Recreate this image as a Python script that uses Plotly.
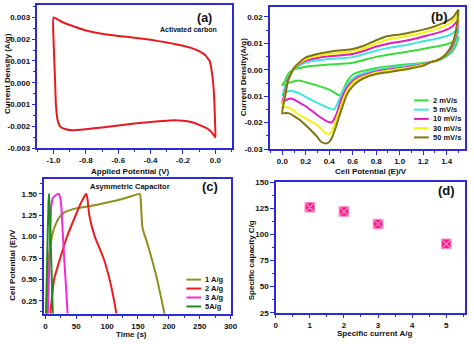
import plotly.graph_objects as go

W, H = 474, 344
BLUE = "#2a2ad6"
FONT = "Liberation Sans, Arial, sans-serif"

# ---------------- Panel (a): CV of activated carbon ----------------
a_v = [-1.0, -0.95, -0.9, -0.8, -0.7, -0.6, -0.5, -0.4, -0.3, -0.2, -0.15, -0.1, -0.06, -0.045,
       -0.035, -0.024, -0.014, -0.006, -0.002, 0.0,
       -0.02, -0.05, -0.1, -0.15, -0.2, -0.25, -0.3, -0.4, -0.5, -0.6, -0.7, -0.8, -0.88,
       -0.93, -0.96, -0.975, -0.985, -0.99, -0.995, -1.0, -1.0]
a_i = [0.0030, 0.0028, 0.00265, 0.0024, 0.00225, 0.00215, 0.00207, 0.00197, 0.00185, 0.0017,
       0.0016, 0.00145, 0.00125, 0.0011, 0.001, 0.0006, 0.0, -0.0009, -0.0018, -0.0025,
       -0.0023, -0.0021, -0.00193, -0.0018, -0.00174, -0.00172, -0.00174, -0.0018, -0.00187,
       -0.00196, -0.00205, -0.00213, -0.00218, -0.00212, -0.002, -0.0017, -0.001, 0.0, 0.001,
       0.002, 0.003]

# ---------------- Panel (b): CV at scan rates ----------------
b_names = ["2 mV/s", "5 mV/s", "10 mV/s", "30 mV/s", "50 mV/s"]
b_colors = ["#3ddc3d", "#3ee6dc", "#e01cc4", "#f2f20a", "#7d7412"]

b_anod_v = [0.0, 0.02, 0.05, 0.1, 0.15, 0.2, 0.3, 0.4, 0.5, 0.6, 0.7, 0.8, 0.9, 1.0, 1.1, 1.2, 1.3, 1.4, 1.45, 1.5]
b_anod_2 = [-0.0058, -0.0045, -0.0015, 0.0002, 0.0007, 0.0012, 0.0016, 0.002, 0.0023, 0.0027, 0.0038, 0.0049, 0.0057, 0.0064, 0.0071, 0.0079, 0.0087, 0.0097, 0.0105, 0.0127]
b_anod_5 = [-0.0097, -0.007, -0.003, 0.0003, 0.0018, 0.0028, 0.0036, 0.0041, 0.0044, 0.0048, 0.006, 0.0072, 0.0083, 0.009, 0.0098, 0.0108, 0.0117, 0.0128, 0.0138, 0.0158]
b_anod_10 = [-0.0125, -0.009, -0.0035, 0.0004, 0.0022, 0.0035, 0.0045, 0.0051, 0.0055, 0.006, 0.0072, 0.0088, 0.0099, 0.0106, 0.0115, 0.0126, 0.0137, 0.0152, 0.0165, 0.019]
b_anod_30 = [-0.0145, -0.010, -0.004, 0.0006, 0.0026, 0.0041, 0.0053, 0.006, 0.0065, 0.0069, 0.0082, 0.010, 0.0115, 0.0123, 0.0131, 0.014, 0.0153, 0.017, 0.0184, 0.0214]
b_anod_50 = [-0.0165, -0.011, -0.004, 0.0008, 0.003, 0.0047, 0.006, 0.0068, 0.0074, 0.0079, 0.0092, 0.0112, 0.0128, 0.0134, 0.0142, 0.0152, 0.0165, 0.0183, 0.0197, 0.0228]

b_cath_v_2 = [1.5, 1.49, 1.47, 1.44, 1.4, 1.35, 1.3, 1.27, 1.2, 1.1, 1.0, 0.9, 0.8, 0.7, 0.65, 0.6, 0.55, 0.52, 0.49, 0.45, 0.4, 0.3, 0.2, 0.15, 0.1, 0.05, 0.0]
b_cath_2 = [0.0127, 0.0108, 0.0085, 0.0066, 0.0052, 0.004, 0.0033, 0.003, 0.0026, 0.0022, 0.0018, 0.0013, 0.0007, -0.0003, -0.0008, -0.0018, -0.0045, -0.0075, -0.0097, -0.0088, -0.0075, -0.006, -0.0047, -0.0041, -0.0043, -0.005, -0.0058]
b_cath_v_5 = [1.5, 1.49, 1.47, 1.44, 1.4, 1.35, 1.3, 1.27, 1.2, 1.1, 1.0, 0.9, 0.8, 0.7, 0.65, 0.6, 0.55, 0.5, 0.47, 0.44, 0.4, 0.3, 0.2, 0.15, 0.1, 0.07, 0.03, 0.0]
b_cath_5 = [0.0158, 0.013, 0.0098, 0.0073, 0.0055, 0.004, 0.0033, 0.003, 0.0023, 0.0018, 0.0014, 0.0007, 0.0, -0.0012, -0.002, -0.0033, -0.0058, -0.0095, -0.0128, -0.015, -0.0146, -0.0125, -0.0102, -0.009, -0.0082, -0.0079, -0.0085, -0.0097]
b_cath_v_10 = [1.5, 1.49, 1.47, 1.44, 1.4, 1.35, 1.3, 1.27, 1.2, 1.1, 1.0, 0.9, 0.8, 0.7, 0.65, 0.6, 0.55, 0.5, 0.46, 0.42, 0.38, 0.3, 0.2, 0.15, 0.1, 0.07, 0.03, 0.0]
b_cath_10 = [0.019, 0.0155, 0.0115, 0.0082, 0.0058, 0.0042, 0.0033, 0.003, 0.0021, 0.0013, 0.0007, 0.0001, -0.0006, -0.0019, -0.0027, -0.0042, -0.0068, -0.0115, -0.017, -0.0199, -0.0195, -0.0172, -0.0138, -0.0125, -0.0113, -0.0109, -0.0115, -0.0125]
b_cath_v_30 = [1.5, 1.49, 1.47, 1.44, 1.4, 1.35, 1.3, 1.27, 1.2, 1.1, 1.0, 0.9, 0.8, 0.7, 0.65, 0.6, 0.55, 0.5, 0.45, 0.42, 0.4, 0.37, 0.3, 0.2, 0.15, 0.1, 0.05, 0.02, 0.0]
b_cath_30 = [0.0214, 0.017, 0.0125, 0.0088, 0.0061, 0.0043, 0.0033, 0.003, 0.0019, 0.001, 0.0004, -0.0003, -0.001, -0.0024, -0.0033, -0.005, -0.008, -0.0135, -0.02, -0.0235, -0.0242, -0.024, -0.021, -0.0185, -0.0172, -0.0155, -0.0142, -0.0142, -0.0145]
b_cath_v_50 = [1.5, 1.49, 1.47, 1.44, 1.4, 1.35, 1.3, 1.27, 1.2, 1.1, 1.0, 0.9, 0.8, 0.7, 0.65, 0.6, 0.55, 0.5, 0.45, 0.42, 0.4, 0.37, 0.33, 0.3, 0.2, 0.15, 0.1, 0.06, 0.03, 0.0]
b_cath_50 = [0.0228, 0.018, 0.013, 0.009, 0.0063, 0.0043, 0.0033, 0.003, 0.0016, 0.0006, -0.0002, -0.0009, -0.0016, -0.003, -0.0043, -0.0062, -0.0094, -0.0156, -0.0225, -0.026, -0.0273, -0.0279, -0.0272, -0.0255, -0.021, -0.019, -0.0175, -0.0165, -0.0163, -0.0165]

# ---------------- Panel (c): charge / discharge ----------------
c_names = ["1 A/g", "2 A/g", "3 A/g", "5A/g"]
c_colors = ["#8f8f1c", "#ee1c1c", "#f22ad8", "#1e8a1e"]
c_t_1 = [1.5, 3, 5, 8, 12, 17, 22, 30, 40, 50, 75, 100, 125, 153, 155, 157, 160, 163, 170, 181, 193]
c_e_1 = [0.1, 0.4, 0.7, 0.9, 1.05, 1.15, 1.22, 1.28, 1.31, 1.33, 1.36, 1.40, 1.44, 1.5, 1.35, 1.12, 1.03, 0.97, 0.8, 0.5, 0.1]
c_t_2 = [8, 14, 24, 35, 49, 58, 66, 68, 71, 80, 94, 104, 110, 115]
c_e_2 = [0.1, 0.5, 0.75, 1.0, 1.25, 1.4, 1.5, 1.45, 1.25, 1.0, 0.75, 0.5, 0.3, 0.1]
c_t_3 = [4, 6, 8, 9.5, 12, 16, 22, 24, 25.5, 30, 36]
c_e_3 = [0.1, 0.6, 1.1, 1.35, 1.45, 1.48, 1.5, 1.45, 1.38, 0.8, 0.1]
c_t_5 = [1, 3, 5, 6, 7, 9.5, 12]
c_e_5 = [0.1, 0.8, 1.4, 1.5, 1.3, 0.7, 0.1]

# ---------------- Panel (d): specific capacity ----------------
d_current = [1, 2, 3, 5]
d_capacity = [126, 122, 110, 91]

# tick labels
a_xticks = [-1.0, -0.8, -0.6, -0.4, -0.2, 0.0]
a_xtext = ["-1.0", "-0.8", "-0.6", "-0.4", "-0.2", "0.0"]
a_yticks = [-0.003, -0.002, -0.001, 0.0, 0.001, 0.002, 0.003]
a_ytext = ["-0.003", "-0.002", "-0.001", "0.000", "0.001", "0.002", "0.003"]
b_xticks = [0.0, 0.2, 0.4, 0.6, 0.8, 1.0, 1.2, 1.4]
b_xtext = ["0.0", "0.2", "0.4", "0.6", "0.8", "1.0", "1.2", "1.4"]
b_yticks = [-0.03, -0.02, -0.01, 0.0, 0.01, 0.02]
b_ytext = ["-0.03", "-0.02", "-0.01", "0.00", "0.01", "0.02"]
c_xticks = [0, 50, 100, 150, 200, 250, 300]
c_xtext = ["0", "50", "100", "150", "200", "250", "300"]
c_yticks = [0.25, 0.5, 0.75, 1.0, 1.25, 1.5]
c_ytext = ["0.25", "0.50", "0.75", "1.00", "1.25", "1.50"]
d_xticks = [0, 1, 2, 3, 4, 5]
d_xtext = ["0", "1", "2", "3", "4", "5"]
d_yticks = [25, 50, 75, 100, 125, 150]
d_ytext = ["25", "50", "75", "100", "125", "150"]


def px(x):
    return x / W


def py(y):
    return 1 - y / H


fig = go.Figure()

fig.add_trace(go.Scatter(x=a_v, y=a_i, mode="lines", line=dict(color="#e8191e", width=2, shape="spline", smoothing=0.4),
                         xaxis="x", yaxis="y", showlegend=False))

b_anod = [b_anod_2, b_anod_5, b_anod_10, b_anod_30, b_anod_50]
b_cv = [b_cath_v_2, b_cath_v_5, b_cath_v_10, b_cath_v_30, b_cath_v_50]
b_ci = [b_cath_2, b_cath_5, b_cath_10, b_cath_30, b_cath_50]
for k in range(5):
    fig.add_trace(go.Scatter(x=b_anod_v + b_cv[k], y=b_anod[k] + b_ci[k], mode="lines", name=b_names[k],
                             line=dict(color=b_colors[k], width=2, shape="spline", smoothing=0.5),
                             xaxis="x2", yaxis="y2", showlegend=False))

c_t = [c_t_1, c_t_2, c_t_3, c_t_5]
c_e = [c_e_1, c_e_2, c_e_3, c_e_5]
for k in range(4):
    fig.add_trace(go.Scatter(x=c_t[k], y=c_e[k], mode="lines", name=c_names[k],
                             line=dict(color=c_colors[k], width=2, shape="spline", smoothing=0.4),
                             xaxis="x3", yaxis="y3", showlegend=False))

fig.add_trace(go.Scatter(x=d_current, y=d_capacity, mode="markers",
                         marker=dict(symbol="square-x", size=9.5, color="#ff1a8c", line=dict(color="#ff8cc8", width=1.1)),
                         xaxis="x4", yaxis="y4", showlegend=False))

tickfont = dict(family=FONT, size=8, color="#111111", weight="bold")


def axis(domain, rng, tv, tt, minor_dtick, anchor):
    return dict(domain=domain, range=rng, tickmode="array", tickvals=tv, ticktext=tt,
                showline=True, linecolor=BLUE, linewidth=2, mirror=True,
                ticks="outside", ticklen=3.5, tickwidth=1.2, tickcolor=BLUE,
                minor=dict(tickmode="linear", tick0=0, dtick=minor_dtick, ticks="outside", ticklen=2,
                           tickwidth=1, tickcolor=BLUE),
                showgrid=False, zeroline=False, tickfont=tickfont, anchor=anchor)


fig.update_layout(
    width=W, height=H, margin=dict(l=0, r=0, t=0, b=0),
    paper_bgcolor="white", plot_bgcolor="white",
    xaxis=axis([px(36), px(234)], [-1.1, 0.1], a_xticks, a_xtext, 0.1, "y"),
    yaxis=axis([py(148), py(1)], [-0.003, 0.00357], a_yticks, a_ytext, 0.0005, "x"),
    xaxis2=axis([px(273), px(472)], [-0.106, 1.556], b_xticks, b_xtext, 0.1, "y2"),
    yaxis2=axis([py(149), py(3)], [-0.03, 0.0238], b_yticks, b_ytext, 0.005, "x2"),
    xaxis3=axis([px(43), px(233)], [-2, 300], c_xticks, c_xtext, 25, "y3"),
    yaxis3=axis([py(318), py(180)], [0.1, 1.67], c_yticks, c_ytext, 0.125, "x3"),
    xaxis4=axis([px(279), px(472)], [0, 5.55], d_xticks, d_xtext, 0.5, "y4"),
    yaxis4=axis([py(317), py(183)], [25, 150], d_yticks, d_ytext, 12.5, "x4"),
)

ann = []


def text(x, y, s, size=8, angle=0, xanchor="center", weight="bold"):
    ann.append(dict(x=px(x), y=py(y), xref="paper", yref="paper", text=s, showarrow=False,
                    xanchor=xanchor, yanchor="middle", textangle=angle,
                    font=dict(family=FONT, size=size, color="#111111", weight=weight)))


# axis titles
text(131, 172, "Applied Potential (V)")
text(5, 71, "Current Density (A/g)", angle=-90)
text(376, 172, "Cell Potential (E)/V")
text(246, 75, "Current Density(A/g)", angle=-90)
text(132, 339, "Time (s)")
text(11, 268, "Cell Potential (E)/V", angle=-90)
text(380, 338, "Specific current A/g")
text(254, 263, "Specific capacity C/g", angle=-90)

# panel labels and notes
text(206, 14.5, "(a)", size=12.5)
text(190, 26.5, "Activated carbon", size=7)
text(446, 13, "(b)", size=13)
text(212, 187, "(c)", size=13)
text(130, 187, "Asymmetric Capacitor", size=7.5)
text(453, 191, "(d)", size=13)

# custom legends
shapes = []
for k in range(5):
    y = 99 + k * 9.5
    shapes.append(dict(type="line", xref="paper", yref="paper", x0=px(420), x1=px(435), y0=py(y), y1=py(y),
                       line=dict(color=b_colors[k], width=2)))
    text(437, y, b_names[k], size=7.5, xanchor="left")
for k in range(4):
    y = 283 + k * 9.2
    shapes.append(dict(type="line", xref="paper", yref="paper", x0=px(188), x1=px(203), y0=py(y), y1=py(y),
                       line=dict(color=c_colors[k], width=2)))
    text(205, y, c_names[k], size=7.5, xanchor="left")

fig.update_layout(annotations=ann, shapes=shapes)

fig.write_html("out.html")
